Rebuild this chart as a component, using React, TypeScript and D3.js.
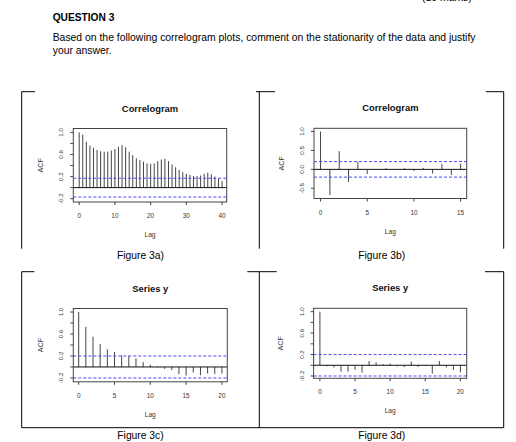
import * as d3 from 'd3';

// ACF values (lag 0 first)
const acfA = [1.0, 0.96, 0.83, 0.76, 0.72, 0.68, 0.66, 0.65, 0.65, 0.67, 0.7, 0.74, 0.77, 0.73, 0.65, 0.59, 0.53, 0.5, 0.47, 0.44, 0.43, 0.44, 0.48, 0.51, 0.52, 0.48, 0.42, 0.37, 0.32, 0.28, 0.25, 0.23, 0.21, 0.21, 0.22, 0.25, 0.27, 0.24, 0.2, 0.16, 0.12];
const acfB = [1.0, -0.68, 0.48, -0.33, 0.2, -0.12, -0.01, 0.03, -0.02, 0.03, -0.04, 0.04, -0.11, 0.14, -0.15, 0.15];
const acfC = [1.0, 0.73, 0.55, 0.42, 0.32, 0.27, 0.21, 0.2, 0.16, 0.09, 0.04, -0.01, -0.035, -0.055, -0.13, -0.155, -0.1, -0.15, -0.12, -0.13, -0.12];
const acfD = [1.0, -0.02, -0.04, -0.12, -0.12, -0.085, -0.135, 0.08, 0.055, 0.02, 0.03, -0.02, -0.035, 0.07, -0.03, -0.015, -0.155, 0.08, -0.04, -0.09, -0.13];

// 95% confidence bounds (blue dashed lines)
const climA = 0.17;
const climB = 0.205;
const climC = 0.2;
const climD = 0.2;

const titles = ['Correlogram', 'Correlogram', 'Series  y', 'Series  y'];
const captions = ['Figure 3a)', 'Figure 3b)', 'Figure 3c)', 'Figure 3d)'];

const xTicksA = [0, 10, 20, 30, 40];
const xTicksB = [0, 5, 10, 15];
const xTicksCD = [0, 5, 10, 15, 20];
const yTicksSmall = [-0.2, 0, 0.2, 0.4, 0.6, 0.8, 1.0];
const yLabelsSmall = ['-0.2', '', '0.2', '', '0.6', '', '1.0'];
const yTicksB = [-0.5, 0, 0.5, 1.0];
const yLabelsB = ['-0.5', '0.0', '0.5', '1.0'];

const FONT = "'Liberation Sans', Arial, Helvetica, sans-serif";

interface PanelSpec {
  acf: number[];
  clim: number;
  box: [number, number, number, number]; // left, right, top, bottom
  xDomain: [number, number];
  yDomain: [number, number];
  xTicks: number[];
  yTicks: number[];
  yLabels: string[];
  title: string;
}

const PANELS: PanelSpec[] = [
  { acf: acfA, clim: climA, box: [73.3, 226.7, 128.5, 202], xDomain: [-1.65, 41.3], yDomain: [-0.26, 1.07], xTicks: xTicksA, yTicks: yTicksSmall, yLabels: yLabelsSmall, title: titles[0] },
  { acf: acfB, clim: climB, box: [314, 466.7, 128.3, 198.5], xDomain: [-0.7, 15.65], yDomain: [-0.77, 1.085], xTicks: xTicksB, yTicks: yTicksB, yLabels: yLabelsB, title: titles[1] },
  { acf: acfC, clim: climC, box: [73.3, 227.3, 308.5, 381.8], xDomain: [-0.75, 20.75], yDomain: [-0.27, 1.064], xTicks: xTicksCD, yTicks: yTicksSmall, yLabels: yLabelsSmall, title: titles[2] },
  { acf: acfD, clim: climD, box: [313.6, 466.7, 308.3, 378.3], xDomain: [-0.9, 20.9], yDomain: [-0.243, 1.063], xTicks: xTicksCD, yTicks: yTicksSmall, yLabels: yLabelsSmall, title: titles[3] },
];

const Correlogram = ({ spec }: { spec: PanelSpec }) => {
  const [l, r, t, b] = spec.box;
  const x = d3.scaleLinear().domain(spec.xDomain).range([l, r]);
  const y = d3.scaleLinear().domain(spec.yDomain).range([b, t]);
  const midY = (t + b) / 2;
  return (
    <g fontFamily={FONT}>
      <text x={(l + r) / 2} y={t - 20.5} textAnchor="middle" dominantBaseline="central" fontSize={9.4} fontWeight="bold" fill="#111">
        {spec.title}
      </text>
      {/* bars */}
      {spec.acf.map((v, i) => (
        <line key={i} x1={x(i)} x2={x(i)} y1={y(0)} y2={y(v)} stroke="#444" strokeWidth={1} />
      ))}
      <line x1={l} x2={r} y1={y(0)} y2={y(0)} stroke="#111" strokeWidth={1} />
      {[spec.clim, -spec.clim].map((c) => (
        <line key={c} x1={l} x2={r} y1={y(c)} y2={y(c)} stroke="#4a4aff" strokeWidth={1} strokeDasharray="3,2" />
      ))}
      <rect x={l} y={t} width={r - l} height={b - t} fill="none" stroke="#444" strokeWidth={1} />
      {/* x axis */}
      {spec.xTicks.map((tk) => (
        <g key={tk}>
          <line x1={x(tk)} x2={x(tk)} y1={b} y2={b + 3} stroke="#444" strokeWidth={1} />
          <text x={x(tk)} y={b + 13.5} textAnchor="middle" dominantBaseline="central" fontSize={6.4} fill="#333">
            {tk}
          </text>
        </g>
      ))}
      <text x={(l + r) / 2} y={b + 32.5} textAnchor="middle" dominantBaseline="central" fontSize={6.6} fill="#333">
        Lag
      </text>
      {/* y axis */}
      {spec.yTicks.map((tk, i) => (
        <g key={tk}>
          <line x1={l - 3} x2={l} y1={y(tk)} y2={y(tk)} stroke="#444" strokeWidth={1} />
          {spec.yLabels[i] && (
            <text
              transform={`translate(${l - 12.5},${y(tk)}) rotate(-90)`}
              textAnchor="middle"
              dominantBaseline="central"
              fontSize={6.2}
              fill="#333"
            >
              {spec.yLabels[i]}
            </text>
          )}
        </g>
      ))}
      <text transform={`translate(${l - 32.8},${midY}) rotate(-90)`} textAnchor="middle" dominantBaseline="central" fontSize={7.2} fill="#333">
        ACF
      </text>
    </g>
  );
};

const Frames = () => {
  const xs = [21.7, 259.3, 503.7];
  return (
    <g stroke="#000" strokeWidth={1} fill="none">
      {/* top row */}
      {xs.map((xv) => (
        <line key={`t${xv}`} x1={xv} x2={xv} y1={91.7} y2={248.7} />
      ))}
      <line x1={21.7} x2={35} y1={91.7} y2={91.7} />
      <line x1={256} x2={275} y1={91.7} y2={91.7} />
      <line x1={486} x2={503.7} y1={91.7} y2={91.7} />
      {/* bottom row */}
      {xs.map((xv) => (
        <line key={`b${xv}`} x1={xv} x2={xv} y1={271.7} y2={427.7} />
      ))}
      <line x1={21.7} x2={34.3} y1={271.7} y2={271.7} />
      <line x1={247.3} x2={276.7} y1={271.7} y2={271.7} />
      <line x1={485} x2={503.7} y1={271.7} y2={271.7} />
      <line x1={21.7} x2={503.7} y1={427.7} y2={427.7} />
    </g>
  );
};

const captionPos: [number, number][] = [
  [140.5, 259],
  [381.7, 259],
  [140.5, 438.5],
  [381.7, 438.5],
];

export default function App() {
  return (
    <svg width={516} height={442} style={{ position: 'absolute', left: 0, top: 0, background: '#fff' }} fontFamily={FONT}>
      <rect width={516} height={442} fill="#fff" />
      <text x={471.7} y={1.2} textAnchor="end" fontSize={10.4} fill="#000">
        (10 marks)
      </text>
      <text x={52.7} y={20.7} fontSize={10.2} fontWeight="bold" fill="#000">
        QUESTION 3
      </text>
      <text x={52.7} y={41.3} fontSize={10.4} fill="#000">
        Based on the following correlogram plots, comment on the stationarity of the data and justify
      </text>
      <text x={52.7} y={54.3} fontSize={10.4} fill="#000">
        your answer.
      </text>
      <Frames />
      {PANELS.map((p, i) => (
        <Correlogram key={i} spec={p} />
      ))}
      {captions.map((c, i) => (
        <text key={c} x={captionPos[i][0]} y={captionPos[i][1]} textAnchor="middle" fontSize={10.3} fill="#000">
          {c}
        </text>
      ))}
    </svg>
  );
}
